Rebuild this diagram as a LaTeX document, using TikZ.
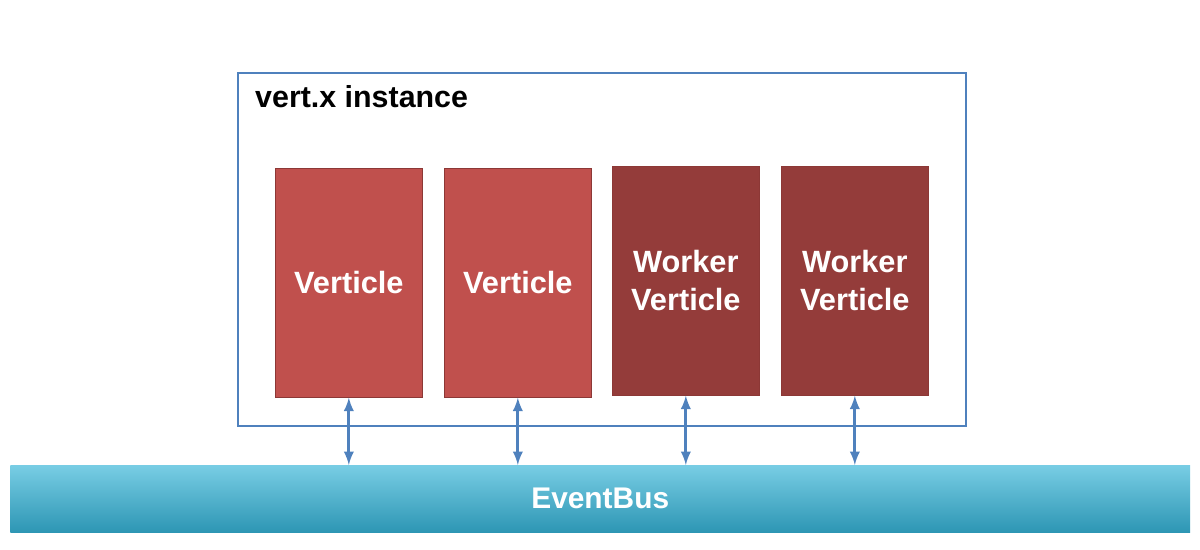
\documentclass[tikz,border=0pt]{standalone}
\usepackage{fontspec}
\setmainfont{Liberation Sans}
\usetikzlibrary{positioning}
\definecolor{vertcol}{RGB}{192,80,77}
\definecolor{workcol}{RGB}{148,60,58}
\definecolor{edgecol}{RGB}{140,56,54}
\definecolor{instcol}{RGB}{79,129,189}
\definecolor{arrowcol}{RGB}{79,129,189}
\definecolor{bustop}{RGB}{120,205,228}
\definecolor{busbot}{RGB}{45,150,180}
\tikzset{
    verticle/.style={draw=edgecol, fill=vertcol, minimum width=2.94cm, minimum height=4.58cm,
        text=white, font=\fontsize{17.5}{21.5}\selectfont\bfseries, align=center, anchor=north west},
    worker/.style={verticle, fill=workcol},
    link/.style={<->, >=latex, draw=arrowcol, line width=1.6pt}
}
\begin{document}
\begin{tikzpicture}[x=0.02cm, y=-0.02cm]

    \useasboundingbox (0,0) rectangle (1200,549);

    % vert.x instance frame
    \node[draw=instcol, line width=1.2pt, minimum width=14.56cm, minimum height=7.06cm,
        anchor=north west] (inst) at (237,72) {};
    \node[anchor=north west, font=\fontsize{17.3}{20}\selectfont\bfseries] (title) at (249,79) {vert.x instance};

    % verticles
    \node[verticle] (v1) at (275,168) {Verticle};
    \node[verticle] (v2) at (444,168) {Verticle};
    \node[worker] (w1) at (612,166) {Worker\\Verticle};
    \node[worker] (w2) at (781,166) {Worker\\Verticle};

    % event bus
    \node[top color=bustop, bottom color=busbot, minimum width=23.6cm, minimum height=1.34cm,
        anchor=north west, text=white, font=\fontsize{17}{20}\selectfont\bfseries] (bus) at (10,465) {EventBus};

    % links to the bus
    \foreach \n in {v1,v2,w1,w2}
        \draw[link] (\n.south) -- (\n.south |- bus.north);

\end{tikzpicture}
\end{document}
